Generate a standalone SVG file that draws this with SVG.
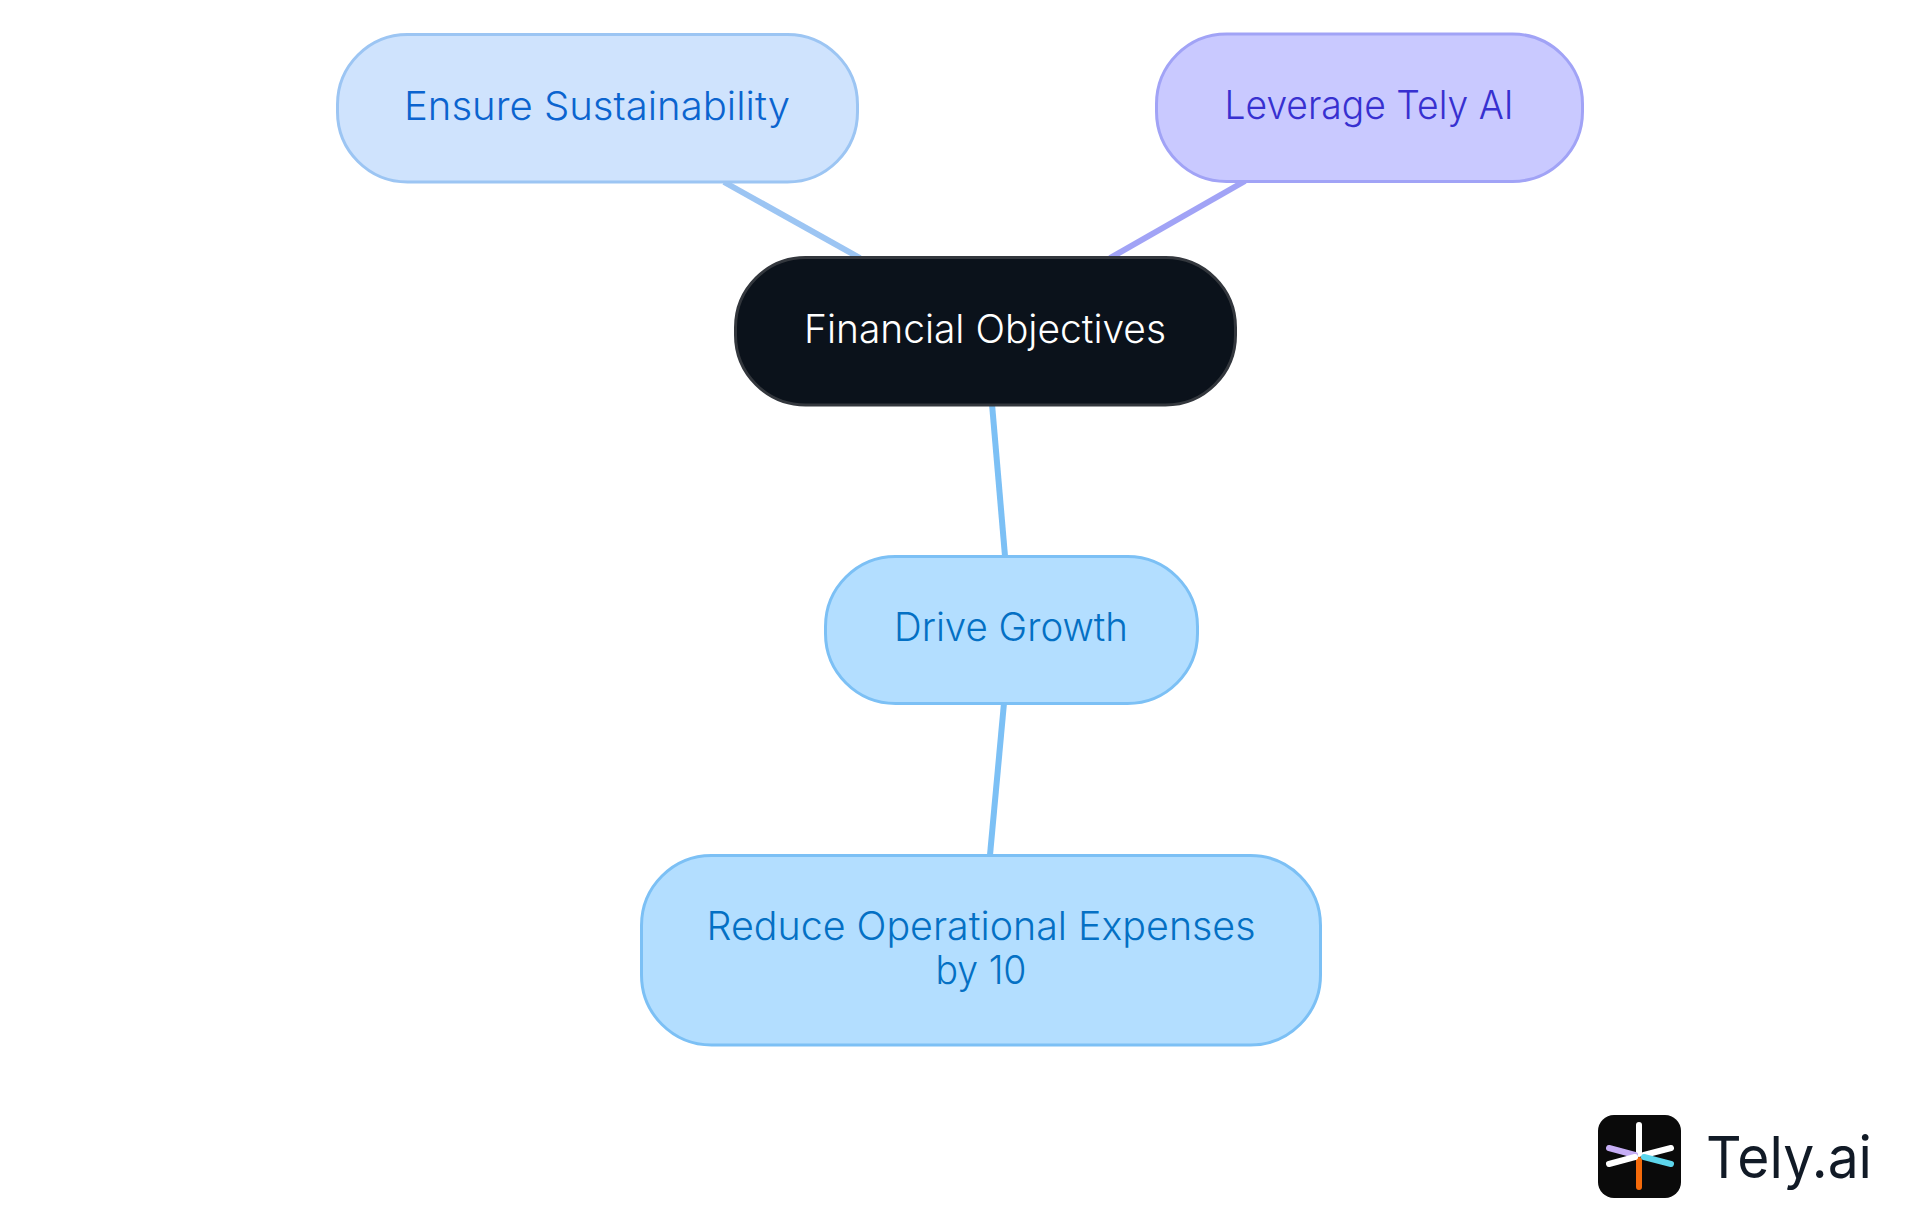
<svg xmlns="http://www.w3.org/2000/svg" width="1920" height="1215" viewBox="0 0 1920 1215">
<style>
text{font-family:"Inter","Noto Sans",sans-serif;font-size:39px;text-anchor:middle;font-weight:300}
.n{stroke-width:3}
.c{fill:none;stroke-width:6}
.s{stroke-width:6;stroke-linecap:round}
</style>
<rect width="1920" height="1215" fill="#ffffff"/>
<g id="connectors">
<line class="c" x1="724" y1="182" x2="860" y2="258" stroke="#9cc5f3"/>
<line class="c" x1="1245" y1="181" x2="1110" y2="258" stroke="#a1a3f6"/>
<line class="c" x1="992" y1="404" x2="1005" y2="556" stroke="#7cc0f5"/>
<line class="c" x1="1004" y1="703" x2="990" y2="855" stroke="#7cc0f5"/>
</g>
<g id="node-ensure">
<rect class="n" x="337.5" y="34.5" width="520" height="147.5" rx="70" fill="#cfe3fd" stroke="#9cc5f3"/>
<text x="597" y="120" textLength="386" lengthAdjust="spacingAndGlyphs" fill="#0b64cf">Ensure Sustainability</text>
</g>
<g id="node-leverage">
<rect class="n" x="1156.5" y="34" width="426" height="147.5" rx="70" fill="#c9c9ff" stroke="#a1a3f6"/>
<text x="1369" y="119" textLength="289" lengthAdjust="spacingAndGlyphs" fill="#3730d0">Leverage Tely AI</text>
</g>
<g id="node-financial">
<rect class="n" x="735.5" y="257.5" width="500" height="147.5" rx="70" fill="#0b121b" stroke="#33373d"/>
<text x="985" y="343" textLength="362" lengthAdjust="spacingAndGlyphs" fill="#ffffff">Financial Objectives</text>
</g>
<g id="node-drive">
<rect class="n" x="825.5" y="556.5" width="372" height="147" rx="70" fill="#b3deff" stroke="#7cc0f5"/>
<text x="1011" y="641" textLength="234" lengthAdjust="spacingAndGlyphs" fill="#0470c4">Drive Growth</text>
</g>
<g id="node-reduce">
<rect class="n" x="641.5" y="855.5" width="679" height="189.5" rx="70" fill="#b3deff" stroke="#7cc0f5"/>
<text x="981" y="940" textLength="549" lengthAdjust="spacingAndGlyphs" fill="#0470c4">Reduce Operational Expenses</text>
<text x="981" y="984" textLength="91" lengthAdjust="spacingAndGlyphs" fill="#0470c4">by 10</text>
</g>
<g id="logo">
<rect x="1598" y="1115" width="83" height="83" rx="16" fill="#0a0a0a"/>
<line class="s" x1="1639" y1="1154" x2="1639" y2="1125" stroke="#ffffff"/>
<line class="s" x1="1639" y1="1160" x2="1639" y2="1187" stroke="#f56a0a"/>
<line class="s" x1="1635" y1="1155" x2="1609" y2="1148" stroke="#c6aef5"/>
<line class="s" x1="1635" y1="1157" x2="1609" y2="1164" stroke="#ffffff"/>
<line class="s" x1="1644" y1="1155" x2="1671" y2="1148" stroke="#ffffff"/>
<line class="s" x1="1644" y1="1157" x2="1671" y2="1164" stroke="#5dd6ec"/>
<text x="1789" y="1178" style="font-size:58px;font-weight:400" textLength="166" lengthAdjust="spacingAndGlyphs" fill="#111a26">Tely.ai</text>
</g>
</svg>
